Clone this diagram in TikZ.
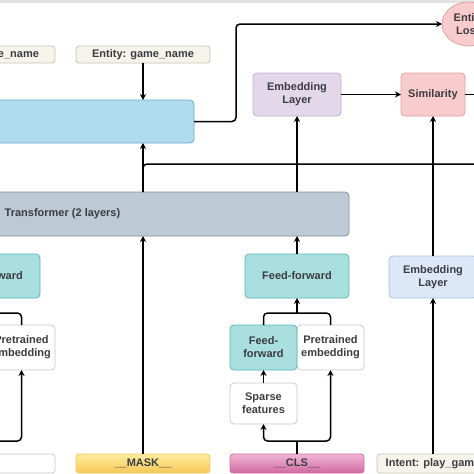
\documentclass[tikz,border=0pt]{standalone}
\usepackage{fontspec}
\setmainfont{Liberation Sans}
\usepackage{tikz}
\usetikzlibrary{arrows.meta,shapes.geometric,shadings}
\definecolor{inkgray}{RGB}{60,60,66}
\definecolor{entfill}{RGB}{245,243,234}
\definecolor{entline}{RGB}{200,196,180}
\definecolor{crffill}{RGB}{176,220,240}
\definecolor{crfline}{RGB}{110,168,200}
\definecolor{embfill}{RGB}{227,215,234}
\definecolor{embline}{RGB}{190,176,204}
\definecolor{simfill}{RGB}{248,204,204}
\definecolor{simline}{RGB}{222,160,160}
\definecolor{trffill}{RGB}{189,202,214}
\definecolor{trfline}{RGB}{128,143,160}
\definecolor{fffill}{RGB}{169,223,222}
\definecolor{ffline}{RGB}{95,179,181}
\definecolor{intfill}{RGB}{220,232,248}
\definecolor{intline}{RGB}{168,194,226}
\definecolor{plainline}{RGB}{200,200,200}
\definecolor{masktop}{RGB}{253,236,160}
\definecolor{maskbot}{RGB}{245,200,85}
\definecolor{clstop}{RGB}{240,182,212}
\definecolor{clsbot}{RGB}{208,106,162}

\tikzset{
  block/.style={draw, rounded corners=4pt, line width=0.8pt, outer sep=0pt, inner sep=1pt,
    align=center, text=inkgray, font=\bfseries\fontsize{11}{13}\selectfont},
  entbox/.style={block, rounded corners=3pt, fill=entfill, draw=entline, minimum width=134pt, minimum height=17pt},
  tokbox/.style={block, rounded corners=3pt, draw=plainline, fill=white, minimum width=134pt, minimum height=19pt},
  ffbox/.style={block, fill=fffill, draw=ffline},
  plainbox/.style={block, fill=white, draw=plainline, minimum width=67pt},
  flow/.style={-{Stealth[length=6pt,width=6pt]}, line width=1.5pt, rounded corners=4pt},
  wire/.style={line width=1.5pt, rounded corners=4pt}
}

\begin{document}
\begin{tikzpicture}[x=1pt, y=-1pt]
  \useasboundingbox (0,0) rectangle (474,474);
  \clip (0,0) rectangle (474,474);
  \fill[white] (0,0) rectangle (474,474);
  \fill[gray!22] (0,0) rectangle (474,2.5);

  % Entity labels and CRF
  \node[entbox] (entL) at (-12,54.5) {Entity: game\_name};
  \node[entbox] (entR) at (143,54.5) {Entity: game\_name};
  \node[block, fill=crffill, draw=crfline, minimum width=288pt, minimum height=43pt] (crf) at (50,121.5) {};
  \node[block, ellipse, fill=simfill, draw=simline, minimum width=54pt, minimum height=44pt] (loss) at (469,24) {Entity\\Loss};

  % Embedding and similarity
  \node[block, fill=embfill, draw=embline, minimum width=88pt, minimum height=43pt] (emb) at (297,94.5) {Embedding\\Layer};
  \node[block, fill=simfill, draw=simline, minimum width=64pt, minimum height=43pt] (sim) at (433,94.5) {Similarity};

  % Transformer
  \node[block, fill=trffill, draw=trfline, minimum width=499pt, minimum height=44pt] (trf) at (99.5,214) {};
  \node[anchor=west, text=inkgray, font=\bfseries\fontsize{11}{13}\selectfont, inner sep=0pt] (trftext) at (4.5,214) {Transformer (2 layers)};

  % Feed-forward layers
  \node[ffbox, minimum width=104pt, minimum height=44pt] (ffL) at (-12,276) {Feed-forward};
  \node[ffbox, minimum width=104pt, minimum height=44pt] (ff) at (297,276) {Feed-forward};
  \node[block, fill=intfill, draw=intline, minimum width=88pt, minimum height=42pt] (intemb) at (433,277) {Embedding\\Layer};

  % Token features
  \node[plainbox, minimum height=45pt] (preL) at (21.5,347.5) {Pretrained\\embedding};
  \node[plainbox, minimum height=45pt] (pre) at (330.5,347.5) {Pretrained\\embedding};
  \node[ffbox, minimum width=67pt, minimum height=45pt] (ffa) at (263.5,347.5) {Feed-\\forward};
  \node[plainbox, minimum height=41pt] (sparse) at (263.5,403.5) {Sparse\\features};

  % Tokens
  \node[tokbox] (tokL) at (-12,463.5) {};
  \node[tokbox, draw=maskbot, top color=masktop, bottom color=maskbot] (mask) at (143,463.5) {\_\_MASK\_\_};
  \node[tokbox, draw=clsbot, top color=clstop, bottom color=clsbot] (cls) at (297,463.5) {\_\_CLS\_\_};
  \node[tokbox, fill=entfill, draw=entline, minimum width=112pt] (intent) at (433,463.5) {Intent: play\_game};

  \coordinate (splitL) at (-12,441);
  \coordinate (mergeL) at (-12,313);
  \coordinate (split) at (297,441);
  \coordinate (merge) at (297,313);
  \coordinate (turn) at (236,24);
  \coordinate (maskout) at (490,164);
  \coordinate (simout) at (490,94.5);

  % Left column
  \draw[wire] (tokL.north) -- (splitL);
  \draw[flow] (splitL) -| (preL.south);
  \draw[wire] (preL.north) |- (mergeL);
  \draw[flow] (mergeL) -- (ffL.south);

  % CLS column
  \draw[wire] (cls.north) -- (split);
  \draw[flow] (split) -| (sparse.south);
  \draw[flow] (split) -| (pre.south);
  \draw[flow] (sparse.north) -- (ffa.south);
  \draw[wire] (ffa.north) |- (merge);
  \draw[wire] (pre.north) |- (merge);
  \draw[flow] (merge) -- (ff.south);
  \draw[flow] (ff.north) -- (ff.north |- trf.south);
  \draw[flow] (ff.north |- trf.north) -- (emb.south);

  % MASK column
  \draw[flow] (mask.north) -- (mask.north |- trf.south);
  \draw[flow] (mask.north |- trf.north) -- (mask.north |- crf.south);
  \draw[wire] (mask.north |- trf.north) |- (maskout);

  % Intent column
  \draw[flow] (intent.north) -- (intemb.south);
  \draw[flow] (intemb.north) -- (sim.south);

  % Top
  \draw[flow] (entR.south) -- (entR.south |- crf.north);
  \draw[flow] (crf.east) -| (turn) -- (loss.west);
  \draw[flow] (emb.east) -- (sim.west);
  \draw[wire] (sim.east) -- (simout);
\end{tikzpicture}
\end{document}
